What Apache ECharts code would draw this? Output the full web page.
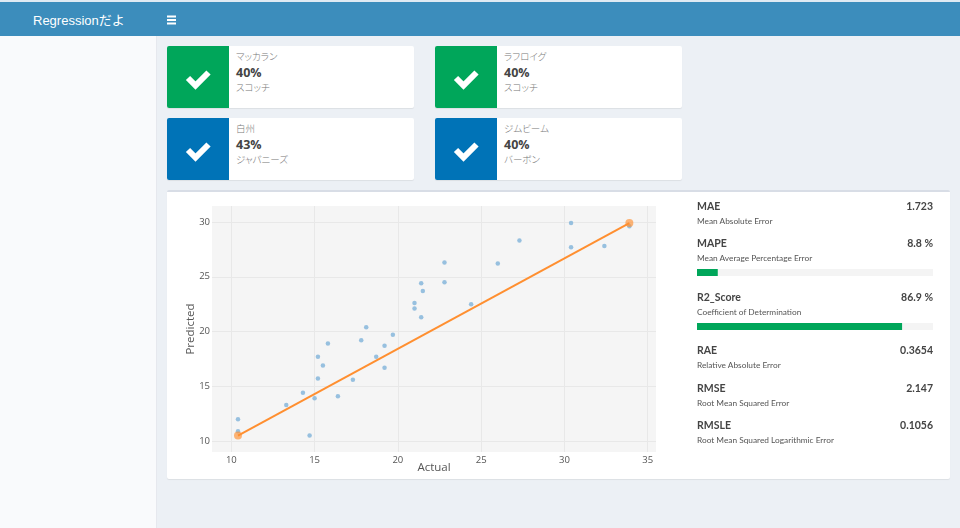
<!DOCTYPE html>
<html>
<head>
<meta charset="utf-8">
<script src="https://cdn.jsdelivr.net/npm/echarts@6/dist/echarts.min.js"></script>
<style>
html, body { margin: 0; padding: 0; width: 960px; height: 528px; overflow: hidden; background: #ecf0f5; }
body { position: relative; font-family: "Open Sans", "Noto Sans CJK JP", sans-serif; color: #333; }
#header { position: absolute; left: 0; top: 2px; width: 960px; height: 34px; background: #3c8dbc; }
#topline { position: absolute; left: 0; top: 0; width: 960px; height: 2px; background: #dfeaf3; }
#logo { position: absolute; left: 33px; top: 8px; font: 13px "Liberation Sans", "Noto Sans CJK JP", sans-serif; color: #fff; }
#burger { position: absolute; left: 167px; top: 13px; width: 9px; height: 10px; }
#sidebar { position: absolute; left: 0; top: 36px; width: 156px; height: 492px; background: #f9fafc; border-right: 1px solid #e6e8ee; }
.card { position: absolute; width: 247px; height: 62px; background: #fff; border-radius: 2px; box-shadow: 0 1px 1px rgba(0,0,0,.07); }
.card .icon { position: absolute; left: 0; top: 0; width: 62px; height: 62px; border-radius: 2px 0 0 2px; }
.card svg { position: absolute; left: 0; top: 0; }
.card div.t { position: absolute; left: 69px; white-space: nowrap; font-family: "Noto Sans CJK JP", sans-serif; font-feature-settings: "palt"; font-weight: 300; font-size: 9.5px; line-height: 12px; color: #777; }
.card div.n { position: absolute; left: 69px; top: 18px; font-family: "Open Sans", sans-serif; font-weight: 700; font-size: 12.5px; line-height: 18px; color: #444; }
#box { position: absolute; left: 167px; top: 190px; width: 783px; height: 289px; background: #fff; border-top: 2px solid #d8dde6; box-sizing: border-box; border-radius: 2px; box-shadow: 0 1px 1px rgba(0,0,0,.07); }
#chart { position: absolute; left: 167px; top: 191px; width: 783px; height: 288px; }
.m { position: absolute; left: 697px; width: 236px; font-family: Lato, sans-serif; white-space: nowrap; }
.m .a { position: absolute; left: 0; top: 0; font-size: 10.5px; font-weight: 700; line-height: 14px; color: #444; }
.m .v { position: absolute; right: 0; top: 0; font-size: 10.5px; font-weight: 700; line-height: 14px; color: #444; }
.m .d { position: absolute; left: 0; top: 16px; font-size: 8.3px; line-height: 12px; color: #555; }
</style>
</head>
<body>
<div id="topline"></div>
<div id="header">
  <div id="logo">Regressionだよ</div>
  <svg id="burger" viewBox="0 0 9 10"><path d="M0 1.5H9M0 5H9M0 8.5H9" stroke="#fff" stroke-width="1.8"/></svg>
</div>
<div id="sidebar"></div>
<div id="box"></div>
<div id="chart"></div>
<script>
// scatter, actual vs predicted
var actual = [10.4, 10.4, 13.3, 14.3, 14.7, 15, 15.2, 15.2, 15.5, 15.8, 16.4, 17.3, 17.8, 18.1, 18.7, 19.2, 19.2, 19.7, 21, 21, 21.4, 21.4, 21.5, 22.8, 22.8, 24.4, 26, 27.3, 30.4, 30.4, 32.4, 33.9];
var predicted = [12.0, 10.9, 13.3, 14.4, 10.5, 13.9, 15.7, 17.7, 16.9, 18.9, 14.1, 15.6, 19.2, 20.4, 17.7, 18.7, 16.7, 19.7, 22.6, 22.1, 24.4, 21.3, 23.7, 26.3, 24.5, 22.5, 26.2, 28.3, 29.9, 27.7, 27.8, 29.6];
var fitX = [10.4, 33.9];
var fitY = [10.5, 29.9];
var xTicks = [10, 15, 20, 25, 30, 35];
var yTicks = [10, 15, 20, 25, 30];

// progress bars
var barNames = ['MAPE', 'R2_Score'];
var barValues = [8.8, 86.9];

// metric list
var metricNames = ['MAE', 'MAPE', 'R2_Score', 'RAE', 'RMSE', 'RMSLE'];
var metricValues = ['1.723', '8.8 %', '86.9 %', '0.3654', '2.147', '0.1056'];
var metricDesc = ['Mean Absolute Error', 'Mean Average Percentage Error', 'Coefficient of Determination', 'Relative Absolute Error', 'Root Mean Squared Error', 'Root Mean Squared Logarithmic Error'];
var metricTop = [199, 236, 290, 343, 381, 418];

// value boxes
var cardNames = ['マッカラン', 'ラフロイグ', '白州', 'ジムビーム'];
var cardValues = ['40%', '40%', '43%', '40%'];
var cardKinds = ['スコッチ', 'スコッチ', 'ジャパニーズ', 'バーボン'];
var cardColors = ['#00a65a', '#00a65a', '#0073b7', '#0073b7'];
var cardLeft = [167, 435, 167, 435];
var cardTop = [46, 46, 118, 118];

var html = '';
for (var i = 0; i < cardNames.length; i++) {
    html += '<div class="card" style="left:' + cardLeft[i] + 'px;top:' + cardTop[i] + 'px">' +
        '<div class="icon" style="background:' + cardColors[i] + '"></div>' +
        '<svg width="62" height="62"><path d="M21 32L28.5 39.5L41.5 26.5" fill="none" stroke="#fff" stroke-width="6"/></svg>' +
        '<div class="t" style="top:4px">' + cardNames[i] + '</div>' +
        '<div class="n">' + cardValues[i] + '</div>' +
        '<div class="t" style="top:35px">' + cardKinds[i] + '</div></div>';
}
for (var j = 0; j < metricNames.length; j++) {
    html += '<div class="m" style="top:' + metricTop[j] + 'px">' +
        '<div class="a">' + metricNames[j] + '</div>' +
        '<div class="v">' + metricValues[j] + '</div>' +
        '<div class="d">' + metricDesc[j] + '</div></div>';
}
document.body.insertAdjacentHTML('beforeend', html);

var points = actual.map(function (v, i) { return [v, predicted[i]]; });
var fitLine = fitX.map(function (v, i) { return [v, fitY[i]]; });

function barAxis(i) {
    return {
        x: { type: 'value', gridIndex: i, min: 0, max: 100, show: false },
        y: { type: 'category', gridIndex: i, data: [barNames[i - 1]], show: false }
    };
}

var myChart = echarts.init(document.getElementById('chart'));
var option = {
    animation: false,
    grid: [
        { left: 45, top: 15, width: 444, height: 246, show: true, backgroundColor: '#f5f5f5', borderWidth: 0, outerBoundsMode: 'none' },
        { left: 530, top: 78, width: 236, height: 7, outerBoundsMode: 'none' },
        { left: 530, top: 132, width: 236, height: 7, outerBoundsMode: 'none' }
    ],
    xAxis: [
        {
            type: 'value',
            name: 'Actual',
            nameLocation: 'middle',
            nameGap: 10,
            nameMoveOverlap: false,
            nameTextStyle: { color: '#555', fontSize: 11.5, fontFamily: 'Open Sans' },
            min: 8.84,
            max: 35.5,
            axisLine: { show: false },
            axisTick: { show: false, customValues: xTicks },
            axisLabel: { customValues: xTicks, color: '#555', fontSize: 9.5, margin: 3, fontFamily: 'Open Sans' },
            splitLine: { show: true, lineStyle: { color: '#e8e8e8' } }
        },
        barAxis(1).x,
        barAxis(2).x
    ],
    yAxis: [
        {
            type: 'value',
            name: 'Predicted',
            nameLocation: 'middle',
            nameGap: 15,
            nameMoveOverlap: false,
            nameTextStyle: { color: '#555', fontSize: 11.5, fontFamily: 'Open Sans' },
            min: 9,
            max: 31.46,
            axisLine: { show: false },
            axisTick: { show: false, customValues: yTicks },
            axisLabel: { customValues: yTicks, color: '#555', fontSize: 9.5, margin: 2, fontFamily: 'Open Sans' },
            splitLine: { show: true, lineStyle: { color: '#e8e8e8' } }
        },
        barAxis(1).y,
        barAxis(2).y
    ],
    series: [
        {
            name: 'Predicted',
            type: 'scatter',
            symbolSize: 4.5,
            itemStyle: { color: '#7fb3d9' },
            data: points
        },
        {
            name: 'Fit',
            type: 'line',
            symbol: 'circle',
            symbolSize: 8,
            itemStyle: { color: '#ff8f30', opacity: 0.65 },
            lineStyle: { color: '#ff8f30', width: 2 },
            data: fitLine
        },
        {
            name: barNames[0],
            type: 'bar',
            xAxisIndex: 1,
            yAxisIndex: 1,
            barWidth: 7,
            showBackground: true,
            backgroundStyle: { color: '#f4f4f4' },
            itemStyle: { color: '#00a65a' },
            data: [barValues[0]]
        },
        {
            name: barNames[1],
            type: 'bar',
            xAxisIndex: 2,
            yAxisIndex: 2,
            barWidth: 7,
            showBackground: true,
            backgroundStyle: { color: '#f4f4f4' },
            itemStyle: { color: '#00a65a' },
            data: [barValues[1]]
        }
    ]
};
myChart.setOption(option);
</script>
</body>
</html>
